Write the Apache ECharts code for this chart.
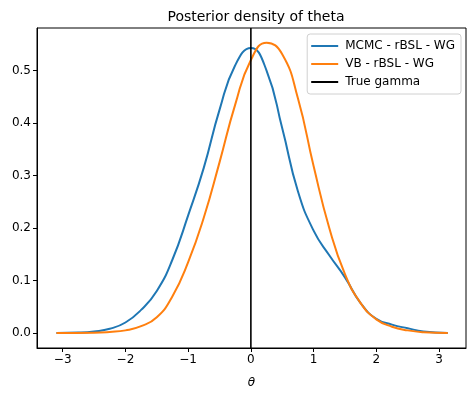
<!DOCTYPE html>
<html>
<head>
<meta charset="utf-8">
<script src="https://cdn.jsdelivr.net/npm/echarts@6/dist/echarts.min.js"></script>
<style>html,body{margin:0;padding:0;background:#fff}#c{width:474px;height:395px}</style>
</head>
<body>
<div id="c"></div>
<script>
const mcmcTheta = [-3.1, -2.75, -2.5, -2.25, -2.0, -1.75, -1.5, -1.25, -1.0, -0.75, -0.5, -0.25, 0.0, 0.25, 0.5, 0.75, 1.0, 1.25, 1.5, 1.75, 2.0, 2.25, 2.5, 2.75, 3.14];
const mcmcDens  = [0.0, 0.0008, 0.003, 0.008, 0.02, 0.044, 0.08, 0.14, 0.224, 0.315, 0.425, 0.51, 0.543, 0.50, 0.39, 0.27, 0.195, 0.148, 0.106, 0.057, 0.027, 0.016, 0.009, 0.003, 0.0];
const vbTheta = [-3.1, -2.5, -2.25, -2.0, -1.75, -1.5, -1.25, -1.0, -0.75, -0.5, -0.25, 0.0, 0.25, 0.5, 0.75, 1.0, 1.25, 1.5, 1.75, 2.0, 2.25, 2.5, 2.75, 3.14];
const vbDens  = [0.0, 0.0005, 0.002, 0.005, 0.013, 0.03, 0.07, 0.135, 0.22, 0.325, 0.435, 0.52, 0.553, 0.531, 0.447, 0.318, 0.2, 0.112, 0.057, 0.026, 0.012, 0.005, 0.0015, 0.0];
const trueGamma = 0;
const xTicks = [-3, -2, -1, 0, 1, 2, 3];
const yTicks = [0.0, 0.1, 0.2, 0.3, 0.4, 0.5];
const seriesNames = ['MCMC - rBSL - WG', 'VB - rBSL - WG', 'True gamma'];
const X_MIN = -3.41, X_MAX = 3.43, Y_MIN = -0.0286, Y_MAX = 0.581;

const zip = (a, b) => a.map((v, i) => [v, b[i]]);
const font = 'DejaVu Sans';
const chart = echarts.init(document.getElementById('c'), null, {renderer: 'canvas'});
chart.setOption({
  animation: false,
  backgroundColor: '#fff',
  title: {
    text: 'Posterior density of theta', left: 251, top: 5, textAlign: 'center',
    textStyle: {fontFamily: font, fontSize: 14, fontWeight: 'normal', color: '#000'}
  },
  legend: {
    orient: 'vertical', right: 13, top: 34,
    data: seriesNames,
    itemWidth: 27, itemHeight: 2, itemGap: 4,
    backgroundColor: 'rgba(255,255,255,0.8)', borderColor: '#d0d0d0', borderWidth: 1, borderRadius: 3,
    padding: [5, 6, 5, 4],
    icon: 'rect',
    textStyle: {fontFamily: font, fontSize: 12, color: '#000', padding: [0, 0, 0, 2], lineHeight: 14}
  },
  grid: {left: 37, right: 8, top: 28, bottom: 47, show: true, borderColor: '#000', borderWidth: 1, containLabel: false},
  xAxis: {
    type: 'value', min: X_MIN, max: X_MAX,
    name: 'θ', nameLocation: 'middle', nameGap: 29,
    nameTextStyle: {fontFamily: font, fontSize: 12, fontStyle: 'italic', color: '#000'},
    splitLine: {show: false},
    axisLine: {show: true, onZero: false, lineStyle: {color: '#000'}},
    axisTick: {show: true, length: 4, lineStyle: {color: '#000'}, customValues: xTicks},
    axisLabel: {fontFamily: font, fontSize: 12, color: '#000', margin: 6, customValues: xTicks,
      formatter: v => (v < 0 ? '\u2212' + Math.abs(v) : String(v))}
  },
  yAxis: {
    type: 'value', min: Y_MIN, max: Y_MAX,
    splitLine: {show: false},
    axisLine: {show: true, onZero: false, lineStyle: {color: '#000'}},
    axisTick: {show: true, length: 4, lineStyle: {color: '#000'}, customValues: yTicks},
    axisLabel: {fontFamily: font, fontSize: 12, color: '#000', margin: 6, customValues: yTicks,
      formatter: v => v.toFixed(1)}
  },
  series: [
    {name: seriesNames[0], type: 'line', data: zip(mcmcTheta, mcmcDens), smooth: 0.5, showSymbol: false,
     color: '#1f77b4', lineStyle: {width: 2, color: '#1f77b4'}, z: 3},
    {name: seriesNames[1], type: 'line', data: zip(vbTheta, vbDens), smooth: 0.5, showSymbol: false,
     color: '#ff7f0e', lineStyle: {width: 2, color: '#ff7f0e'}, z: 4},
    {name: seriesNames[2], type: 'line', data: [[trueGamma, Y_MIN], [trueGamma, Y_MAX]], showSymbol: false,
     color: '#000', lineStyle: {width: 1.6, color: '#000'}, z: 5}
  ]
});
</script>
</body>
</html>
